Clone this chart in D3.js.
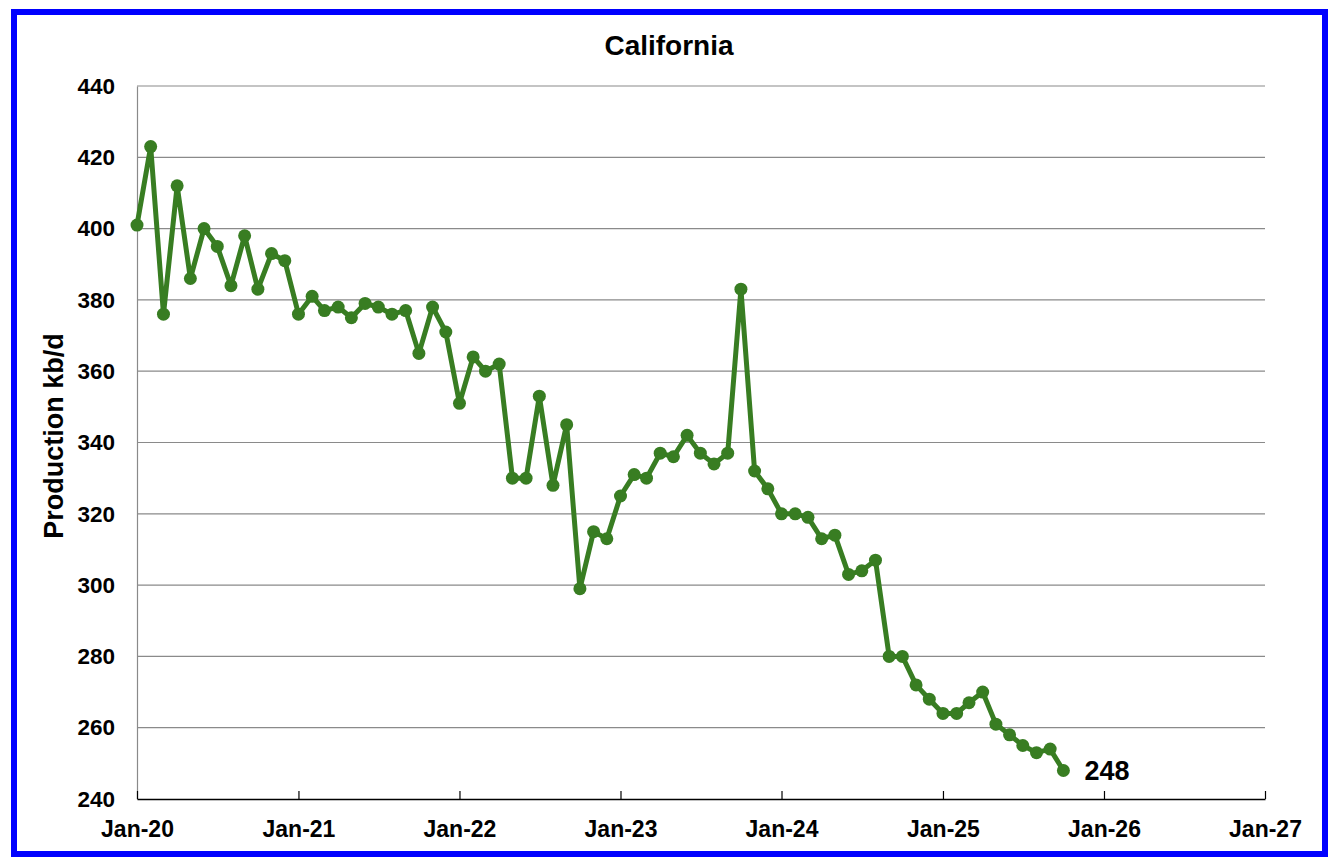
<!DOCTYPE html>
<html>
<head>
<meta charset="utf-8">
<title>California</title>
<script src="https://cdn.jsdelivr.net/npm/d3@7/dist/d3.min.js"></script>
<style>
    html, body { margin: 0; padding: 0; background: #ffffff; }
    svg { display: block; }
    text { font-family: "Liberation Sans", Arial, sans-serif; font-weight: bold; fill: #000000; }
</style>
</head>
<body>
<svg id="chart" width="1342" height="868"></svg>
<script>
// Monthly production, Jan-20 .. Oct-25 (kb/d)
var startMonth = "2020-01";
var production = [
    401, 423, 376, 412, 386, 400, 395, 384, 398, 383, 393, 391,
    376, 381, 377, 378, 375, 379, 378, 376, 377, 365, 378, 371,
    351, 364, 360, 362, 330, 330, 353, 328, 345, 299, 315, 313,
    325, 331, 330, 337, 336, 342, 337, 334, 337, 383, 332, 327,
    320, 320, 319, 313, 314, 303, 304, 307, 280, 280, 272, 268,
    264, 264, 267, 270, 261, 258, 255, 253, 254, 248
];
var xTickLabels = ["Jan-20", "Jan-21", "Jan-22", "Jan-23", "Jan-24", "Jan-25", "Jan-26", "Jan-27"];
var yTicks = [240, 260, 280, 300, 320, 340, 360, 380, 400, 420, 440];
var chartTitle = "California";
var yAxisTitle = "Production kb/d";

var parseMonth = d3.timeParse("%Y-%m");
var fmtMonth = d3.timeFormat("%b-%y");

var svg = d3.select("#chart");
var plot = {left: 137, right: 1265, top: 86, bottom: 799};
var green = "#387d22";

var first = parseMonth(startMonth);
var points = production.map(function (v, i) {
    return {date: d3.timeMonth.offset(first, i), value: v};
});

var x = d3.scaleTime()
    .domain([new Date(2020, 0, 1), new Date(2027, 0, 1)])
    .range([plot.left, plot.right]);
var y = d3.scaleLinear()
    .domain([240, 440])
    .range([plot.bottom, plot.top]);

// outer blue frame
svg.append("rect")
    .attr("x", 14).attr("y", 12)
    .attr("width", 1311).attr("height", 842)
    .attr("fill", "#ffffff")
    .attr("stroke", "#0000ff")
    .attr("stroke-width", 6);

svg.append("text")
    .attr("x", 669).attr("y", 55)
    .attr("text-anchor", "middle")
    .attr("font-size", 28)
    .text(chartTitle);

// horizontal grid
svg.append("g")
    .selectAll("line")
    .data(yTicks.filter(function (t) { return t > 240; }))
    .enter().append("line")
    .attr("x1", plot.left).attr("x2", plot.right)
    .attr("y1", function (d) { return y(d); })
    .attr("y2", function (d) { return y(d); })
    .attr("stroke", "#8a8a8a")
    .attr("stroke-width", 1.2);

// y axis (grey line, labels only)
var yAxis = svg.append("g")
    .attr("transform", "translate(" + plot.left + ",0)")
    .call(d3.axisLeft(y).tickValues(yTicks).tickSize(0).tickPadding(22));
yAxis.select(".domain").attr("stroke", "#8a8a8a").attr("stroke-width", 1.2);
yAxis.selectAll("text")
    .attr("font-size", 22.5)
    .attr("font-family", "Liberation Sans, Arial, sans-serif")
    .attr("font-weight", "bold")
    .attr("fill", "#000");

// x axis: ticks point inwards
var xAxis = svg.append("g")
    .attr("transform", "translate(0," + plot.bottom + ")")
    .call(d3.axisBottom(x)
        .tickValues(xTickLabels.map(function (s) { return d3.timeParse("%b-%y")(s); }))
        .tickFormat(fmtMonth)
        .tickSizeInner(-8)
        .tickSizeOuter(0)
        .tickPadding(22));
xAxis.select(".domain").attr("stroke", "#000").attr("stroke-width", 1.5);
xAxis.selectAll(".tick line").attr("stroke", "#000").attr("stroke-width", 1.2);
xAxis.selectAll("text")
    .attr("font-size", 23)
    .attr("font-family", "Liberation Sans, Arial, sans-serif")
    .attr("font-weight", "bold")
    .attr("fill", "#000");

svg.append("text")
    .attr("transform", "translate(63,436) rotate(-90)")
    .attr("text-anchor", "middle")
    .attr("font-size", 27)
    .text(yAxisTitle);

// the series
var line = d3.line()
    .x(function (d) { return x(d.date); })
    .y(function (d) { return y(d.value); });

svg.append("path")
    .datum(points)
    .attr("d", line)
    .attr("fill", "none")
    .attr("stroke", green)
    .attr("stroke-width", 5)
    .attr("stroke-linejoin", "round");

svg.append("g")
    .selectAll("circle")
    .data(points)
    .enter().append("circle")
    .attr("cx", function (d) { return x(d.date); })
    .attr("cy", function (d) { return y(d.value); })
    .attr("r", 6.5)
    .attr("fill", green);

// label the latest month
var last = points[points.length - 1];
svg.append("text")
    .attr("x", x(last.date) + 21)
    .attr("y", y(last.value) + 10)
    .attr("font-size", 27)
    .text(last.value);
</script>
</body>
</html>
